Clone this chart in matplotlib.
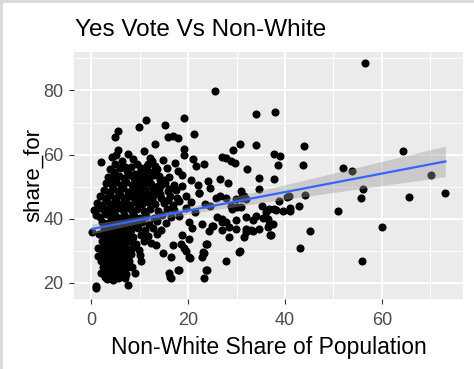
import numpy as np
import matplotlib
matplotlib.use("Agg")
from matplotlib import pyplot as plt
from matplotlib.lines import Line2D

plt.rcParams['font.family'] = ['Liberation Sans', 'DejaVu Sans']

## scattered points outside the dense cluster (non-white share, yes share)
sparse_x = [56.6, 25.5, 34.1, 38.0, 19.1, 11.4, 9.8, 15.3, 5.6, 4.9, 15.8, 16.8, 17.9, 21.3,
            13.1, 10.8, 19.1, 19.1, 5.6, 5.2, 7.6, 2.1, 4.3, 8.6, 9.4, 14.8, 17.2, 21.0,
            21.6, 23.2, 29.2, 30.8, 34.1, 27.1, 27.8, 28.8, 29.7, 32.1, 37.8, 38.9, 38.5,
            44.0, 43.8, 34.7, 37.8, 24.1, 26.5, 28.2, 30.9, 34.7, 52.0, 53.8, 64.3, 70.2,
            73.1, 65.6, 56.2, 55.6, 51.0, 60.1, 55.8, 45.2, 43.1, 44.2, 40.9, 42.9, 39.5,
            41.0, 38.8, 37.8, 35.4, 36.4, 37.5, 37.1, 36.4, 34.7, 33.3, 32.0, 30.8, 27.8,
            23.7, 23.2, 17.9, 16.5, 7.6, 1.0, 0.1, 1.0, 20.3, 19.6, 18.6, 23.7, 23.0, 24.4,
            25.1, 26.0, 27.1, 27.8, 22.3, 25.7, 26.6, 27.8, 29.9, 30.9, 32.0, 28.9, 30.0,
            19.6, 20.6, 18.8, 18.1, 20.2, 22.9, 25.0, 27.1, 29.8, 31.9, 34.0, 36.0, 38.1,
            33.3, 20.9, 27.0, 28.5, 29.8, 31.9, 32.9, 36.7, 28.5, 31.5, 37.0, 18.8, 20.2,
            16.8, 19.2, 20.2, 24.0, 22.9, 30.5, 16.4, 18.1, 16.0, 24.0, 23.3, 40.5, 35.3,
            36.7, 29.1, 30.9, 24.6, 31.6, 41.0]
sparse_y = [88.5, 79.7, 72.8, 73.3, 71.4, 70.8, 68.7, 69.3, 67.3, 65.4, 65.5, 65.9, 65.2, 66.5,
            63.2, 61.1, 61.8, 59.8, 61.5, 60.0, 60.3, 57.6, 59.3, 58.5, 57.0, 58.2, 57.3, 58.5,
            56.4, 57.2, 61.6, 63.2, 63.0, 59.4, 58.9, 58.1, 57.4, 55.4, 60.1, 59.5, 56.7,
            62.6, 56.7, 52.8, 52.3, 51.8, 52.3, 51.3, 48.7, 49.2, 55.9, 54.9, 61.1, 53.7,
            47.9, 46.8, 49.4, 46.4, 42.5, 37.5, 26.9, 36.3, 30.8, 47.5, 47.2, 44.1, 42.5,
            42.5, 45.6, 43.0, 40.4, 39.9, 38.4, 34.8, 37.3, 36.8, 36.3, 35.8, 29.9, 26.8,
            23.9, 21.5, 23.9, 21.5, 19.5, 18.5, 35.8, 41.2, 27.7, 30.1, 32.2, 32.2, 29.6, 36.3,
            37.9, 40.5, 40.0, 39.0, 47.9, 46.6, 47.2, 46.5, 46.2, 46.5, 46.2, 44.0, 43.6,
            47.1, 45.1, 53.8, 41.0, 39.0, 38.5, 37.9, 39.0, 39.5, 40.5, 41.0, 42.0, 42.6,
            39.5, 37.2, 36.4, 37.5, 36.9, 36.9, 36.4, 38.0, 34.4, 34.4, 34.9, 34.9, 33.8,
            31.8, 30.8, 28.2, 32.3, 28.2, 29.8, 28.2, 24.1, 23.0, 24.1, 29.2, 46.7, 44.1,
            43.1, 43.1, 43.7, 44.1, 47.0, 43.5]

## dense cluster of low non-white counties
dense_x = [5.0, 6.3, 7.0, 11.5, 12.6,
           3.8, 4.8, 6.0, 7.4, 8.2, 10.2, 12.0, 13.5, 15.6, 18.0,
           3.5, 4.6, 5.7, 6.8, 8.0, 9.0, 10.5, 11.8, 13.0, 14.2, 16.0,
           3.0, 4.2, 5.2, 6.2, 7.2, 8.4, 9.6, 11.0, 12.3, 13.8, 15.2, 17.0, 18.8,
           2.6, 3.6, 4.6, 5.6, 6.5, 7.5, 8.6, 9.8, 11.2, 12.6, 14.0, 15.8, 22.3,
           1.8, 2.9, 3.9, 4.9, 5.9, 6.8, 7.8, 8.9, 10.0, 11.4, 12.8, 14.5, 16.2, 17.8,
           1.2, 2.3, 3.3, 4.3, 5.2, 6.2, 7.1, 8.1, 9.2, 10.4, 11.8, 13.2, 15.0, 16.8,
           0.6, 1.6, 2.7, 3.7, 4.6, 5.5, 6.5, 7.4, 8.4, 9.5, 10.8, 12.2, 13.8, 15.6,
           1.9, 3.0, 4.0, 4.9, 5.8, 6.8, 7.7, 8.8, 10.0, 11.4, 13.0, 14.6, 16.5,
           2.2, 3.3, 4.3, 5.2, 6.1, 7.0, 8.0, 9.1, 10.4, 12.0, 13.6, 15.4,
           2.6, 3.6, 4.5, 5.4, 6.3, 7.3, 8.3, 9.6, 11.2, 12.8, 14.4,
           1.6, 2.9, 3.9, 4.8, 5.7, 6.6, 7.6, 8.7, 10.2, 11.8, 13.5,
           2.2, 3.2, 4.2, 5.1, 6.0, 7.0, 8.0, 9.3, 10.8, 12.4,
           1.4, 2.6, 3.6, 4.5, 5.4, 6.3, 7.3, 8.4, 9.8, 13.4,
           1.4, 2.3, 3.3, 4.2, 5.1, 6.0, 7.0, 8.2, 10.0, 14.8,
           2.0, 3.0, 4.0, 4.9, 5.8, 6.7, 7.8, 10.3,
           2.4, 3.4, 4.4, 5.3, 6.2, 7.2, 8.5,
           2.1, 3.0, 4.0, 5.0, 6.0, 7.0, 9.0, 16.2,
           3.2, 4.5, 5.6, 1.0,
           17.5, 18.2, 17.0, 19.5, 21.5, 23.5, 22.0, 20.5, 24.5]
dense_y = [57.2, 58.0, 56.3, 56.6, 58.0,
           55.5, 54.6, 55.8, 55.0, 56.0, 55.2, 54.5, 55.5, 55.8, 55.0,
           53.0, 52.4, 53.5, 52.8, 53.6, 52.2, 53.2, 52.4, 53.8, 52.0, 53.0,
           51.2, 50.5, 51.5, 50.6, 51.4, 50.5, 51.3, 50.4, 51.0, 50.2, 51.2, 50.6, 50.3,
           49.0, 48.4, 49.4, 48.6, 49.6, 48.4, 49.2, 48.5, 49.0, 48.2, 49.3, 48.6, 48.2,
           47.0, 46.4, 47.4, 46.6, 47.5, 46.4, 47.2, 46.5, 47.3, 46.5, 47.0, 46.4, 47.2, 46.6,
           45.0, 44.4, 45.4, 44.6, 45.6, 44.5, 45.3, 44.4, 45.2, 44.5, 45.3, 44.6, 45.0, 44.3,
           42.8, 43.4, 42.6, 43.5, 42.5, 43.4, 42.6, 43.3, 42.4, 43.2, 42.5, 43.0, 42.4, 43.2,
           40.6, 41.4, 40.5, 41.3, 40.4, 41.2, 40.4, 41.0, 40.3, 41.0, 40.4, 41.2, 40.5,
           39.0, 38.4, 39.2, 38.5, 39.3, 38.4, 39.0, 38.3, 39.1, 38.5, 39.2, 38.6,
           36.8, 37.4, 36.5, 37.3, 36.4, 37.2, 36.5, 37.0, 36.4, 37.2, 36.6,
           35.2, 34.6, 35.4, 34.5, 35.3, 34.5, 35.1, 34.4, 35.0, 34.5, 35.2,
           33.0, 32.4, 33.3, 32.5, 33.2, 32.4, 33.0, 32.3, 33.0, 32.5,
           30.8, 31.2, 30.5, 31.3, 30.4, 31.2, 30.5, 31.0, 30.4, 31.7,
           28.3, 29.0, 28.6, 29.3, 28.4, 29.1, 28.4, 29.0, 28.6, 29.2,
           27.0, 26.4, 27.2, 26.5, 27.2, 26.4, 27.0, 27.0,
           25.0, 24.4, 25.2, 24.5, 25.2, 24.6, 25.0,
           23.1, 22.5, 23.2, 22.6, 23.3, 22.5, 23.0, 22.0,
           21.2, 20.8, 21.4, 19.0,
           49.0, 45.5, 42.8, 43.5, 42.0, 44.5, 50.5, 52.0, 49.5]

## overplotted points hidden inside the solid black areas
hidden_x = [9.0, 10.0, 11.0, 12.0, 13.0, 14.0, 15.0, 9.5, 10.5, 11.5, 12.5, 13.5, 14.5,
            16.0, 8.5, 9.8, 11.2, 12.6, 14.2, 15.8, 10.2, 11.8, 13.2, 8.8, 12.2,
            2.8, 3.8, 4.8, 5.8, 3.2, 4.2, 5.2, 6.2, 2.5, 3.5, 4.5, 5.5, 6.5, 3.0, 4.0,
            5.0, 6.0, 3.6, 4.6, 5.6,
            3.4, 4.4, 5.4, 6.4, 7.4, 2.9, 3.9, 4.9, 5.9, 6.9, 3.1, 4.1, 5.1, 6.1, 7.1,
            2.7, 3.7, 4.7, 5.7, 6.7, 3.3, 4.3, 5.3, 6.3, 7.3, 2.6, 3.6, 4.6, 5.6, 6.6,
            3.5, 4.5, 5.5, 6.5, 7.5, 2.8, 3.8, 4.8, 5.8, 6.8, 3.0, 4.0, 5.0, 6.0, 7.0,
            3.2, 4.2, 5.2, 6.2, 7.2, 2.9, 3.9, 4.9, 5.9, 6.9, 3.4, 4.4, 5.4, 6.4, 7.4]
hidden_y = [54.0, 52.5, 54.5, 51.8, 55.0, 53.5, 52.0, 50.0, 48.8, 51.6, 49.8, 48.0, 50.6,
            49.4, 47.8, 46.0, 47.6, 45.8, 47.8, 46.0, 55.8, 57.0, 56.4, 52.6, 59.0,
            31.8, 32.0, 31.6, 32.2, 29.8, 30.0, 29.6, 30.2, 27.8, 28.0, 27.6, 27.8, 28.2,
            25.8, 26.0, 25.6, 26.2, 23.8, 24.0, 23.6,
            37.6, 37.0, 37.8, 37.2, 37.5, 35.8, 36.2, 35.6, 36.0, 35.4, 34.0, 33.6, 34.2,
            33.8, 34.4, 32.9, 33.3, 32.7, 33.1, 32.5, 31.2, 30.8, 31.4, 31.0, 30.6, 29.4,
            29.8, 29.2, 29.6, 29.0, 28.4, 27.2, 28.0, 27.4, 27.8, 26.6, 26.2, 26.8, 26.4,
            26.0, 25.0, 24.6, 25.2, 24.8, 24.4, 23.4, 23.0, 23.6, 23.2, 22.8, 22.0, 21.6,
            22.2, 21.8, 21.4, 38.8, 39.4, 38.6, 39.2, 38.4]

x_ticks = [0, 20, 40, 60]
y_ticks = [20, 40, 60, 80]

nonwhite = np.array(sparse_x + dense_x + hidden_x)
share_for = np.array(sparse_y + dense_y + hidden_y)

fig = plt.figure(figsize=(4.74, 3.69), dpi=100)
ax = fig.add_axes([74/474, 1-299/369, (463-74)/474, (299-52)/369])
ax.set_facecolor('#EBEBEB')

ax.scatter(nonwhite, share_for, s=34, color='black', linewidths=0, zorder=3)

# lm smooth with 95% band, like geom_smooth(method='lm')
n = len(nonwhite)
slope, icpt = np.polyfit(nonwhite, share_for, 1)
resid = share_for - (icpt + slope*nonwhite)
s = np.sqrt(np.sum(resid**2)/(n-2))
xm = nonwhite.mean()
sxx = np.sum((nonwhite-xm)**2)
xs = np.linspace(nonwhite.min(), nonwhite.max(), 80)
fit = icpt + slope*xs
se = s*np.sqrt(1/n + (xs-xm)**2/sxx)
ax.fill_between(xs, fit-1.966*se, fit+1.966*se, color='#999999', alpha=0.4, linewidth=0, zorder=4)
ax.plot(xs, fit, color='#3366FF', lw=1.6, zorder=5)

xr = nonwhite.max()-nonwhite.min()
yr = share_for.max()-share_for.min()
ax.set_xlim(nonwhite.min()-0.05*xr, nonwhite.max()+0.05*xr)
ax.set_ylim(share_for.min()-0.05*yr, share_for.max()+0.05*yr)

ax.set_xticks(x_ticks)
ax.set_yticks(y_ticks)
ax.set_xticks([10, 30, 50, 70], minor=True)
ax.set_yticks([30, 50, 70, 90], minor=True)
ax.grid(which='major', color='white', lw=1.4)
ax.grid(which='minor', color='white', lw=0.7)
ax.set_axisbelow(True)
for sp in ax.spines.values():
    sp.set_visible(False)
ax.tick_params(which='major', length=3.6, width=0.8, color='#333333',
               labelcolor='#4D4D4D', labelsize=13)
ax.tick_params(axis='x', pad=6)
ax.tick_params(axis='y', pad=4)
ax.tick_params(which='minor', length=0)

fig.text(75/474, 1-36/369, 'Yes Vote Vs Non-White', fontsize=17.5, color='black', va='baseline')
fig.text(268.5/474, 1-354/369, 'Non-White Share of Population', fontsize=16.5, ha='center', va='baseline')
fig.text(34/474, 1-175.5/369, 'share_for', fontsize=16, rotation=90, ha='center', va='center')

# screenshot frame on top/left
fig.add_artist(Line2D([0, 1], [0.997, 0.997], color='#D8D8D8', lw=2, transform=fig.transFigure))
fig.add_artist(Line2D([0.002, 0.002], [0, 1], color='#D8D8D8', lw=2, transform=fig.transFigure))

fig.savefig('out.png', dpi=100)
